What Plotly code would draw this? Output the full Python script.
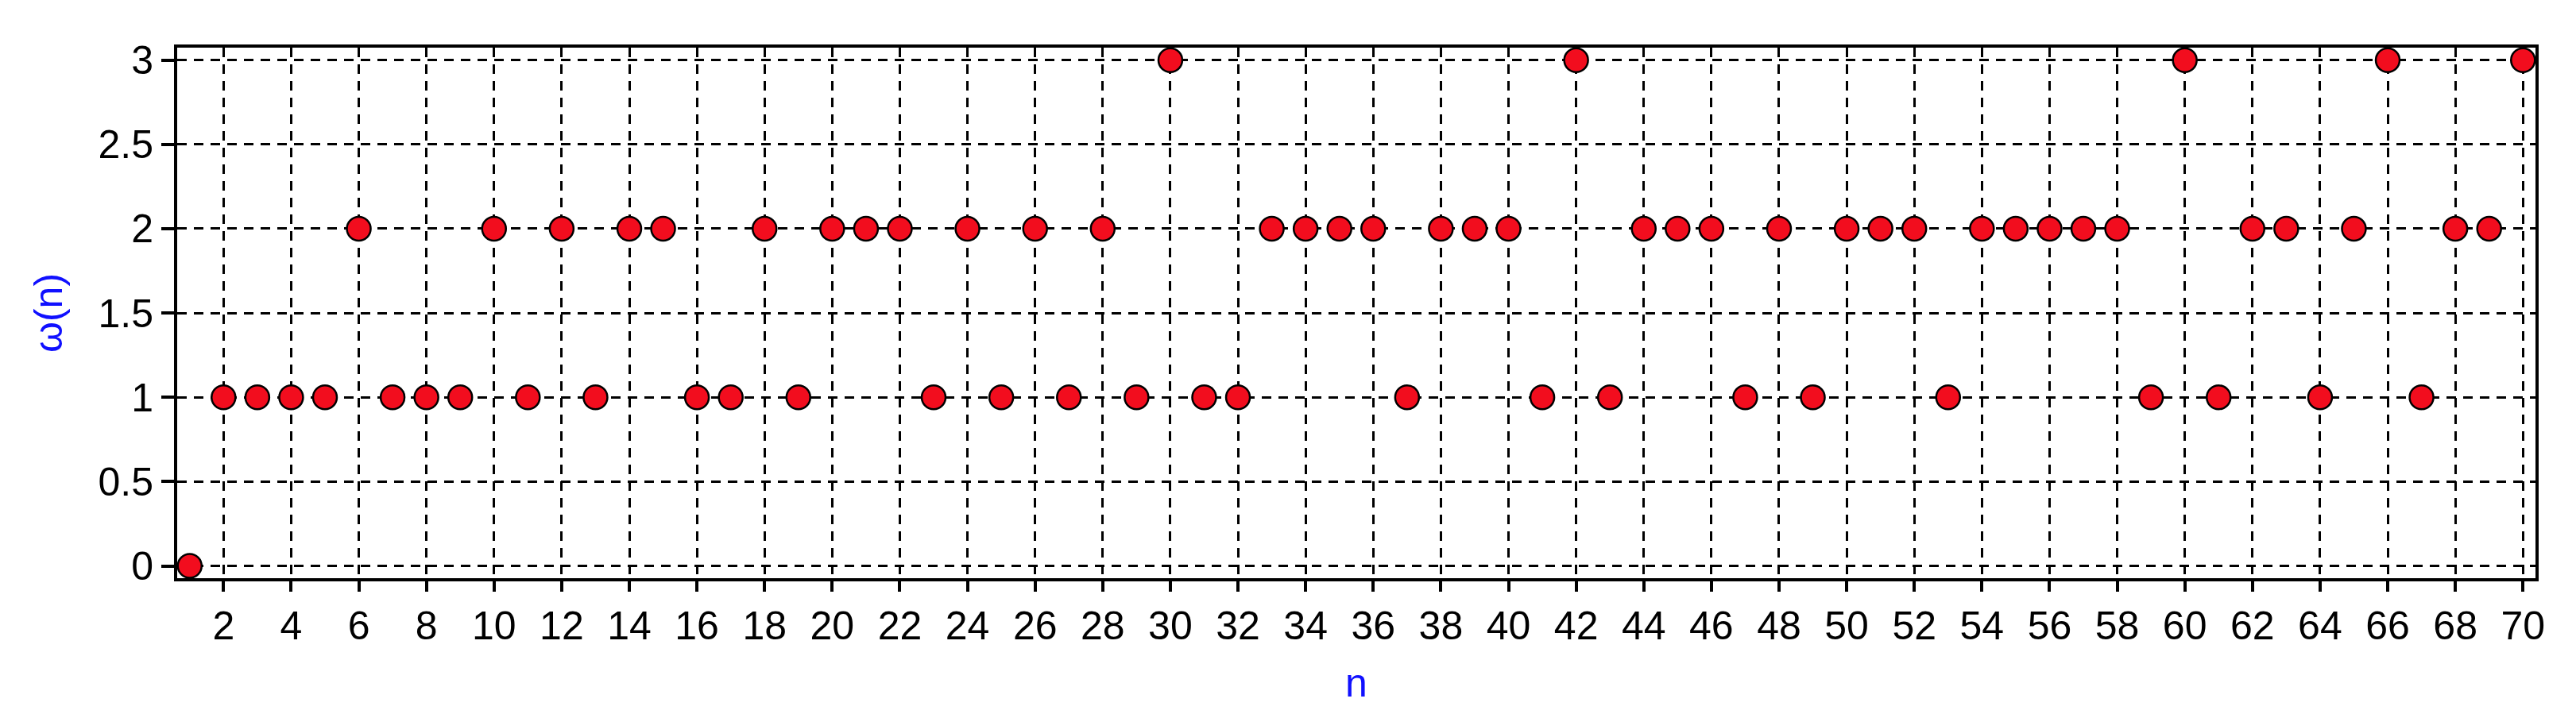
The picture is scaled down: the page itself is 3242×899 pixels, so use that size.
import plotly.graph_objects as go

# n and omega(n)
n_vals = list(range(1, 71))
omega_vals = [0, 1, 1, 1, 1, 2, 1, 1, 1, 2,
              1, 2, 1, 2, 2, 1, 1, 2, 1, 2,
              2, 2, 1, 2, 1, 2, 1, 2, 1, 3,
              1, 1, 2, 2, 2, 2, 1, 2, 2, 2,
              1, 3, 1, 2, 2, 2, 1, 2, 1, 2,
              2, 2, 1, 2, 2, 2, 2, 2, 1, 3,
              1, 2, 2, 1, 2, 3, 1, 2, 2, 3]

x_ticks = list(range(2, 71, 2))
y_ticks = [0, 0.5, 1, 1.5, 2, 2.5, 3]
y_tick_text = ["0", "0.5", "1", "1.5", "2", "2.5", "3"]

fig = go.Figure()
fig.add_trace(go.Scatter(
    x=n_vals, y=omega_vals, mode="markers",
    marker=dict(size=30, color="#f20d1e", line=dict(color="black", width=2.5)),
    cliponaxis=False, showlegend=False,
))

# the page body has an 8px margin, so the figure is shifted by 8px
axis_font = dict(family="Liberation Sans, Arial, sans-serif", size=50, color="black")
title_font = dict(family="Liberation Sans, Arial, sans-serif", size=50, color="#1010ff")
fig.update_layout(
    width=3226, height=883,
    margin=dict(l=215, r=43, t=52, b=159),
    paper_bgcolor="white", plot_bgcolor="white",
    font=axis_font,
    xaxis=dict(
        range=[0.63, 70.37], tickvals=x_ticks, ticktext=[str(v) for v in x_ticks],
        showgrid=True, gridcolor="black", gridwidth=3, griddash="12px,9px",
        showline=True, linecolor="black", linewidth=4, mirror=True,
        ticks="outside", ticklen=13, tickwidth=3.5, tickcolor="black",
        zeroline=False, tickfont=axis_font,
        title=dict(text="n", font=title_font, standoff=28),
    ),
    yaxis=dict(
        range=[-0.073, 3.074], tickvals=y_ticks, ticktext=y_tick_text,
        showgrid=True, gridcolor="black", gridwidth=3, griddash="12px,9px",
        showline=True, linecolor="black", linewidth=4, mirror=True,
        ticks="outside", ticklen=16, tickwidth=3.5, tickcolor="black",
        zeroline=False, tickfont=axis_font,
        title=dict(text="ω(n)", font=title_font, standoff=30),
    ),
)

fig.write_html("out.html")
